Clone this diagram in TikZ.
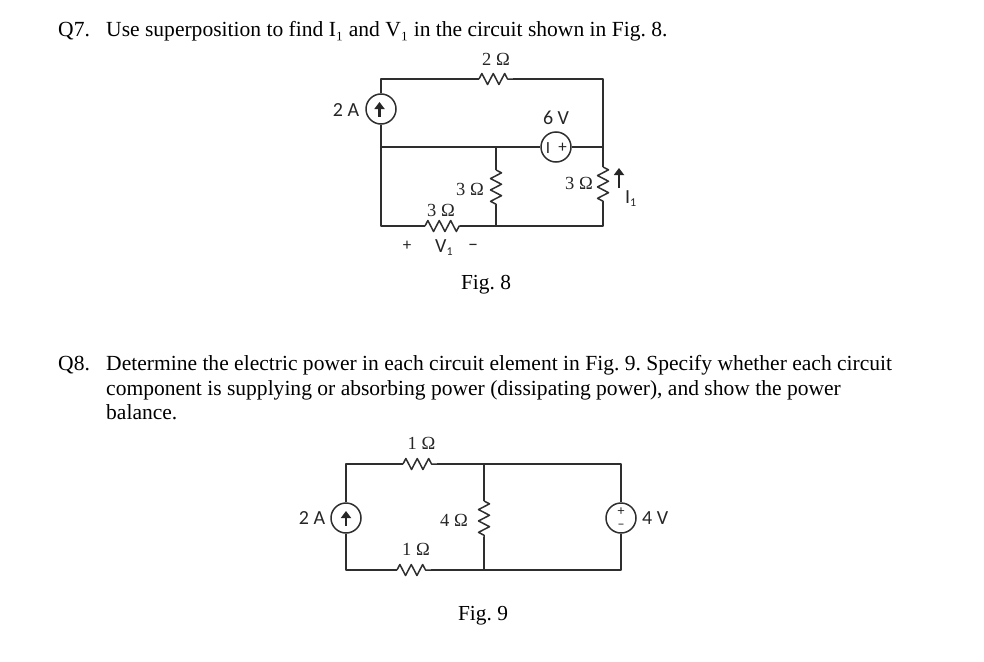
\documentclass[tikz,border=0pt]{standalone}
\usepackage{fontspec}
\setmainfont{Liberation Serif}
\newfontfamily\lab{Carlito}
\usetikzlibrary{decorations.pathmorphing,arrows.meta}
\frenchspacing
\tikzset{
  wire/.style={draw=black!82,line width=1.5pt,line join=round},
  hres/.style={wire,decorate,decoration={zigzag,segment length=11.4pt,amplitude=5.5pt}},
  src/.style={circle,draw=black!82,line width=1.5pt,minimum size=30pt,inner sep=0pt,fill=white},
  body/.style={anchor=base west,inner sep=0pt,font=\fontsize{21.54}{21.54}\selectfont},
  fig/.style={anchor=base,inner sep=0pt,font=\fontsize{21.4}{21.4}\selectfont},
  val/.style={anchor=base,inner sep=0pt,font=\fontsize{20}{20}\selectfont\lab,text=black!85},
  ohm/.style={anchor=base,inner sep=0pt,font=\fontsize{18.5}{18.5}\selectfont,text=black!85},
  sym/.style={anchor=center,inner sep=0pt,font=\fontsize{14}{14}\selectfont\lab,text=black!85},
  upar/.style={-{Triangle[width=10pt,length=7pt]},draw=black!85,line width=2.6pt}
}
\begin{document}
\begin{tikzpicture}[x=1pt,y=-1pt]
\useasboundingbox (0,0) rectangle (984,661);
% question text
\node[body] (q7n) at (58,37) {Q7.};
\node[body] (q7t) at (106,37) {Use superposition to find I₁ and V₁ in the circuit shown in Fig. 8.};
\node[body] (q8n) at (58,370) {Q8.};
\node[body] (q8a) at (106,370) {Determine the electric power in each circuit element in Fig. 9. Specify whether each circuit};
\node[body] (q8b) at (106,395) {component is supplying or absorbing power (dissipating power), and show the power};
\node[body] (q8c) at (106,419) {balance.};
\node[fig] (f8) at (486,289) {Fig. 8};
\node[fig] (f9) at (483,620) {Fig. 9};
% Fig 8 junctions
\coordinate (tl) at (381,79);
\coordinate (tr) at (603,79);
\coordinate (ml) at (381,147);
\coordinate (mm) at (496,147);
\coordinate (mr) at (603,147);
\coordinate (bl) at (381,226);
\coordinate (bm) at (496,226);
\coordinate (br) at (603,226);
\node[src] (s2a) at (381,109) {};
\node[src] (s6v) at (556,147) {};
\coordinate (r2a) at (479,79); \coordinate (r2b) at (513,79);
\coordinate (r3a) at (425,226); \coordinate (r3b) at (460,226);
\coordinate (r4a) at (496,170); \coordinate (r4b) at (496,205);
\coordinate (r5a) at (603,167); \coordinate (r5b) at (603,202);
\draw[wire] (s2a) -- (tl) -- (r2a);
\draw[wire] (r2b) -- (tr) -- (mr) -- (r5a);
\draw[wire] (r5b) -- (br) -- (bm) -- (r3b);
\draw[wire] (r3a) -- (bl) -- (ml) -- (s2a);
\draw[wire] (ml) -- (mm) -- (s6v) -- (mr);
\draw[wire] (mm) -- (r4a);
\draw[wire] (r4b) -- (bm);
\draw[hres] (r2a) -- (r2b);
\draw[hres] (r3a) -- (r3b);
\draw[hres] (r4a) -- (r4b);
\draw[hres] (r5a) -- (r5b);
\coordinate (a1b) at (379.5,116.5); \coordinate (a1t) at (379.5,102);
\draw[upar] (a1b) -- (a1t);
\coordinate (a2b) at (619,188); \coordinate (a2t) at (619,168);
\draw[upar] (a2b) -- (a2t);
\node[val] (l2a) at (346,116) {2 A};
\node[ohm] (l2o) at (496,66) {2 Ω};
\node[val] (l6v) at (556,124) {6 V};
\node[ohm] (l3m) at (470,195) {3 Ω};
\node[ohm] (l3b) at (441,216) {3 Ω};
\node[ohm] (l3r) at (579,189) {3 Ω};
\node[sym,font=\fontsize{17}{17}\selectfont\lab] (vi) at (548,148) {I};
\node[sym,font=\fontsize{17}{17}\selectfont\lab] (vp) at (562.5,148) {+};
\node[sym,font=\fontsize{17}{17}\selectfont\lab] (vplus) at (407,246) {+};
\node[sym,font=\fontsize{20}{20}\selectfont\lab] (vminus) at (473,247) {–};
\node[val,anchor=base west] (lv1) at (435,252) {V\raisebox{-3pt}{\fontsize{12}{12}\selectfont 1}};
\node[val,anchor=base west] (li1) at (625,203) {I\raisebox{-3pt}{\fontsize{12}{12}\selectfont 1}};
% Fig 9
\coordinate (atl) at (346,464);
\coordinate (atm) at (484,464);
\coordinate (atr) at (621,464);
\coordinate (abl) at (346,570);
\coordinate (abm) at (484,570);
\coordinate (abr) at (621,570);
\node[src] (t2a) at (346,518) {};
\node[src] (t4v) at (621,518) {};
\coordinate (q1a) at (403,464); \coordinate (q1b) at (437,464);
\coordinate (q2a) at (397,570); \coordinate (q2b) at (431,570);
\coordinate (q3a) at (484,501); \coordinate (q3b) at (484,537);
\draw[wire] (t2a) -- (atl) -- (q1a);
\draw[wire] (q1b) -- (atm) -- (atr) -- (t4v);
\draw[wire] (t4v) -- (abr) -- (abm) -- (q2b);
\draw[wire] (q2a) -- (abl) -- (t2a);
\draw[wire] (atm) -- (q3a);
\draw[wire] (q3b) -- (abm);
\draw[hres] (q1a) -- (q1b);
\draw[hres] (q2a) -- (q2b);
\draw[hres] (q3a) -- (q3b);
\coordinate (a3b) at (346,525.5); \coordinate (a3t) at (346,511);
\draw[upar] (a3b) -- (a3t);
\node[val] (m2a) at (312,524) {2 A};
\node[ohm] (m1t) at (421.5,449) {1 Ω};
\node[ohm] (m1b) at (416,555) {1 Ω};
\node[ohm] (m4) at (454,526) {4 Ω};
\node[val,anchor=base west] (m4v) at (642,524) {4 V};
\node[sym] (mp) at (621,512) {+};
\node[sym] (mm2) at (621,526.5) {–};
\end{tikzpicture}
\end{document}
